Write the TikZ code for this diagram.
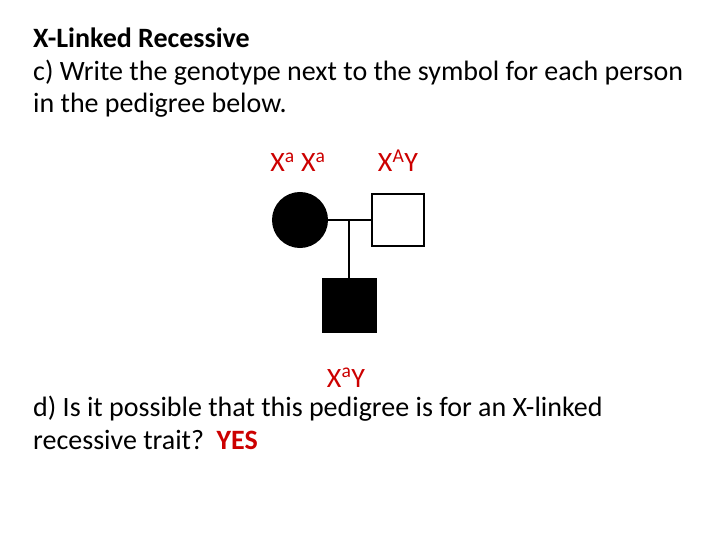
\documentclass[tikz,border=0pt]{standalone}
\usepackage{fontspec}
\setmainfont{Carlito}
\definecolor{myred}{RGB}{204,0,0}
\begin{document}
\begin{tikzpicture}[x=1pt,y=-1pt,
  txt/.style={anchor=base west,inner sep=0pt,font=\fontsize{28}{32}\selectfont},
  lab/.style={anchor=base,inner sep=0pt,text=myred,font=\fontsize{28}{32}\selectfont},
  ln/.style={line width=2pt}]
\useasboundingbox (0,0) rectangle (720,540);
\node[txt,font=\fontsize{28}{32}\selectfont\bfseries] (t1) at (33,48) {X-Linked Recessive};
\node[txt] (t2) at (33,81) {c) Write the genotype next to the symbol for each person};
\node[txt] (t3) at (33,113) {in the pedigree below.};
\node[lab] (g1) at (298,172) {X\textsuperscript{a} X\textsuperscript{a}};
\node[lab] (g2) at (398,172) {X\textsuperscript{A}Y};
\node[lab] (g3) at (346,387) {X\textsuperscript{a}Y};
\node[ln,circle,draw,fill=black,minimum size=54pt,inner sep=0pt] (m) at (300,220) {};
\node[ln,draw,fill=white,minimum size=52pt,inner sep=0pt] (f) at (398,220) {};
\node[ln,draw,fill=black,minimum size=53pt,inner sep=0pt] (c) at (349,305) {};
\coordinate (mid) at (349,220);
\draw[ln] (m.east) -- (f.west);
\draw[ln] (mid) -- (c.north);
\node[txt] (t4) at (33,416) {d) Is it possible that this pedigree is for an X-linked};
\node[txt] (t5) at (33,449) {recessive trait?\ \ \textcolor{myred}{\bfseries YES}};
\end{tikzpicture}
\end{document}
